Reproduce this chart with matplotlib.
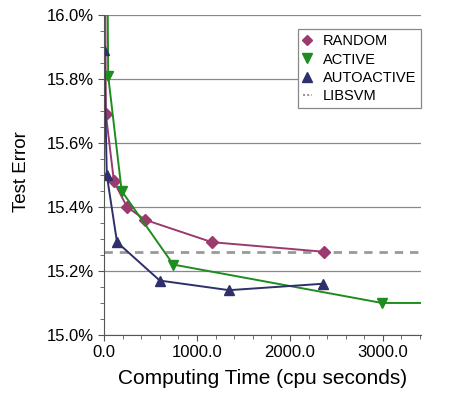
import matplotlib
matplotlib.use("Agg")
import matplotlib.pyplot as plt
from matplotlib.lines import Line2D
from matplotlib.ticker import MultipleLocator, FuncFormatter

plt.rcParams['font.family'] = ['Liberation Sans', 'DejaVu Sans']

# data (x = cpu seconds, y = test error %)
random_x = [5, 20, 107, 247, 441, 1161, 2366]
random_y = [16.6, 15.69, 15.48, 15.40, 15.36, 15.29, 15.26]

active_x = [25, 45, 190, 745, 2990, 3450]
active_y = [16.6, 15.81, 15.45, 15.22, 15.10, 15.10]

auto_x = [2, 30, 140, 600, 1345, 2355]
auto_y = [15.89, 15.50, 15.29, 15.17, 15.14, 15.16]

libsvm_y = 15.26

c_rand = '#9b3a6e'
c_act = '#1f8c1f'
c_auto = '#2f2f6b'
c_lib = '#999999'

fig = plt.figure(figsize=(4.74, 3.95), dpi=100)
ax = fig.add_axes([0.2194, 0.152, 0.6688, 0.810])

ax.plot(random_x, random_y, color=c_rand, marker='D', markersize=6, lw=1.4)
ax.plot(active_x, active_y, color=c_act, marker='v', markersize=7, lw=1.4,
        markevery=[0, 1, 2, 3, 4])
ax.plot(auto_x, auto_y, color=c_auto, marker='^', markersize=7, lw=1.4)
ax.axhline(libsvm_y, color=c_lib, ls=(0, (3, 2.5)), lw=2, zorder=1)

ax.set_xlim(0, 3410)
ax.set_ylim(15.0, 16.0)
ax.yaxis.set_major_locator(MultipleLocator(0.2))
ax.yaxis.set_minor_locator(MultipleLocator(0.05))
ax.xaxis.set_major_locator(MultipleLocator(1000))
ax.xaxis.set_minor_locator(MultipleLocator(200))
ax.yaxis.set_major_formatter(FuncFormatter(lambda v, p: '%.1f%%' % v))
ax.xaxis.set_major_formatter(FuncFormatter(lambda v, p: '%.1f' % v))
ax.grid(axis='y', color='#888888', lw=0.9)
ax.set_axisbelow(True)
for s in ['top', 'right']:
    ax.spines[s].set_visible(False)
for s in ['left', 'bottom']:
    ax.spines[s].set_color('#555555')
ax.tick_params(labelsize=12, color='#555555', length=4)
ax.tick_params(which='minor', color='#555555', length=3)

ax.set_xlabel('Computing Time (cpu seconds)', fontsize=15, labelpad=6)
ax.set_ylabel('Test Error', fontsize=13.5)
ax.yaxis.set_label_coords(-0.233, 0.51)

# legend shows markers only, plus a short dotted line for LIBSVM
handles = [
    Line2D([], [], ls='none', marker='D', color=c_rand, markersize=5.5),
    Line2D([], [], ls='none', marker='v', color=c_act, markersize=6.5),
    Line2D([], [], ls='none', marker='^', color=c_auto, markersize=6.5),
    Line2D([], [], ls=(0, (1, 1)), color=c_lib, lw=1.5),
]
labels = ['RANDOM', 'ACTIVE', 'AUTOACTIVE', 'LIBSVM']
leg = ax.legend(handles, labels, loc='upper right', bbox_to_anchor=(1.0, 0.956),
                borderaxespad=0, fontsize=10.5, frameon=True, fancybox=False,
                handlelength=0.6, handletextpad=0.75, borderpad=0.35,
                labelspacing=0.3, framealpha=1)
leg.get_frame().set_edgecolor('#888888')
leg.get_frame().set_linewidth(0.9)

fig.savefig('out.png', dpi=100)
